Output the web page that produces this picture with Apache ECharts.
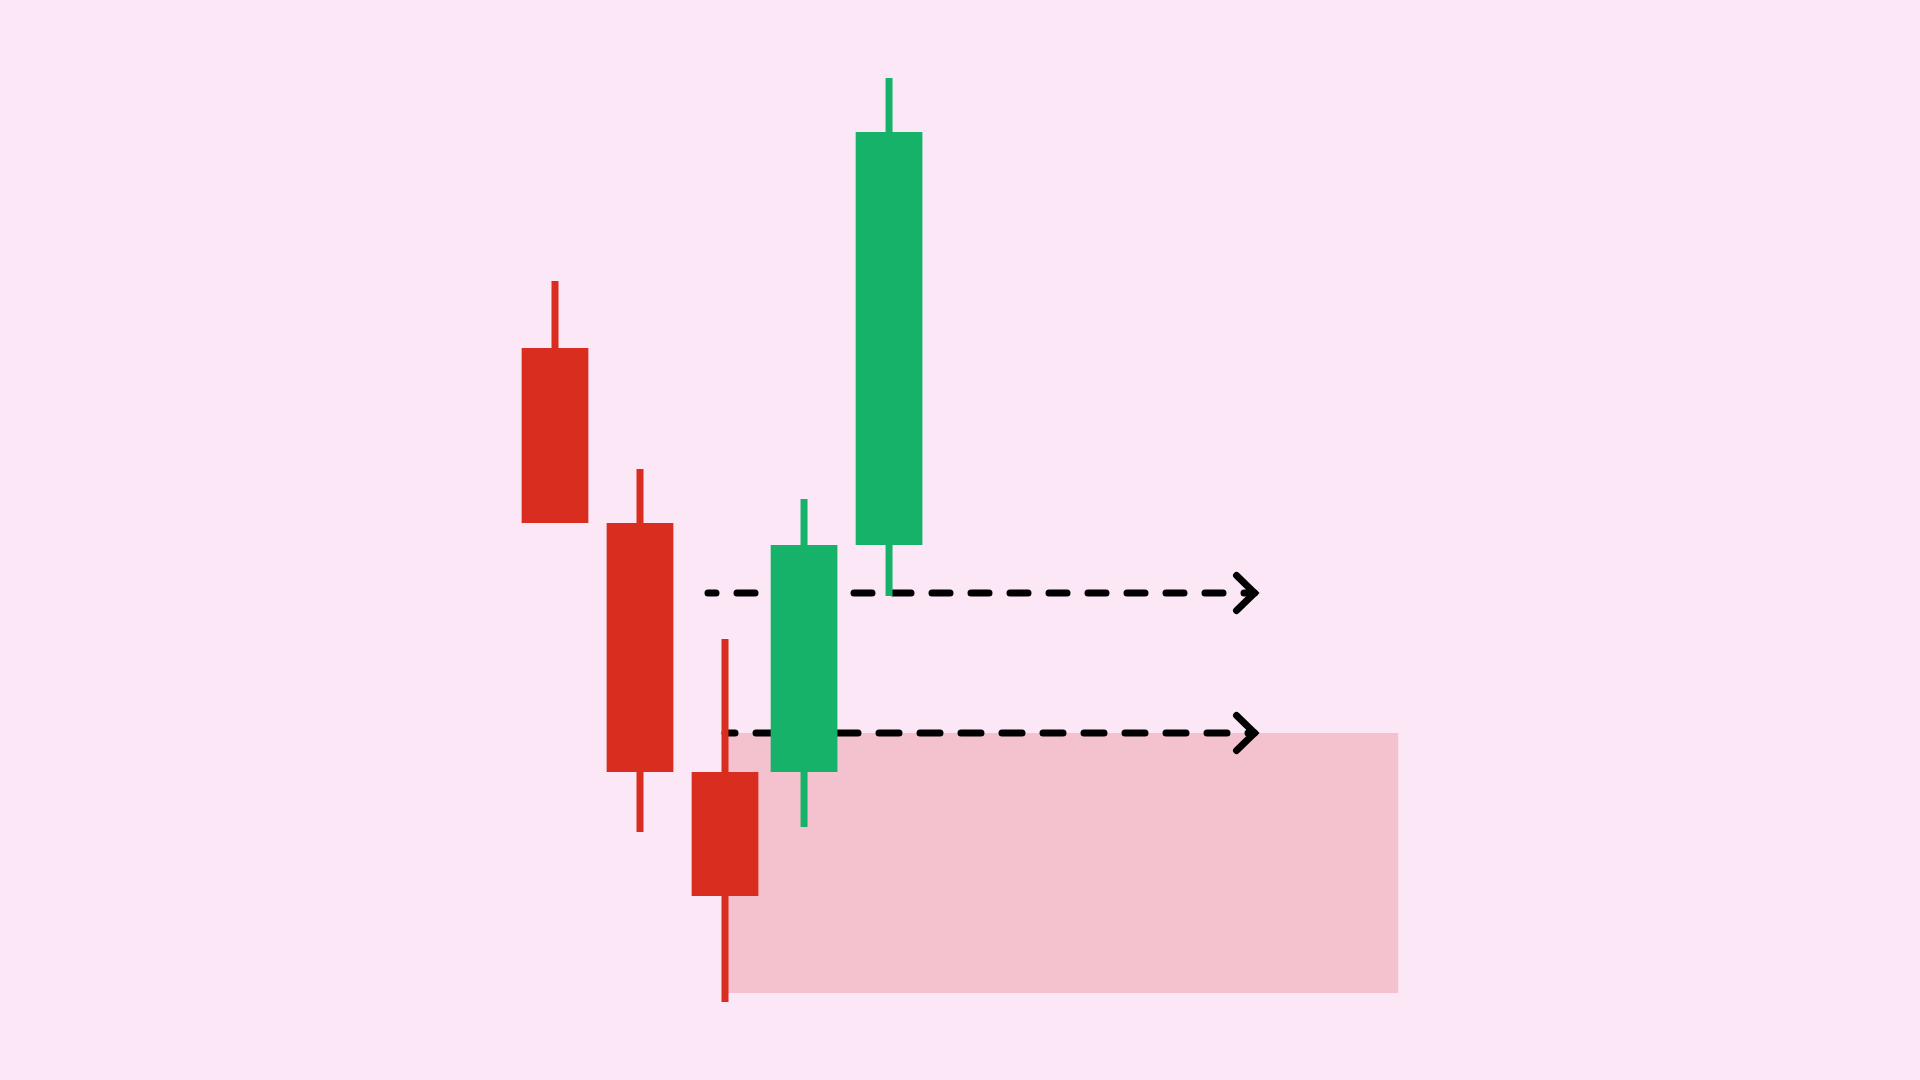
<!DOCTYPE html>
<html lang="en">
<head>
    <meta charset="UTF-8">
    <title>Candles</title>
    <script src="https://cdn.jsdelivr.net/npm/echarts@6/dist/echarts.min.js"></script>
    <style>
        html, body { margin: 0; padding: 0; background: #fce7f6; }
    </style>
</head>
<body>
    <div id="container" style="width: 1920px;height: 1080px"></div>

    <script>
        // candle data (x slot, open, close, low, high)
        var candleX = [1, 2, 3, 3.93, 4.93];
        var opens = [73.2, 55.7, 30.8, 30.8, 53.5];
        var closes = [55.7, 30.8, 18.4, 53.5, 94.8];
        var lows = [55.7, 24.8, 7.8, 25.3, 48.4];
        var highs = [79.9, 61.1, 44.1, 58.1, 100.2];

        // dashed level lines with arrow
        var levelY = [48.7, 34.7];
        var levelStartX = [2.8, 3.0];
        var levelEndX = [9.23, 9.23];

        // shaded zone
        var zoneX = [3.0, 10.92];
        var zoneY = [8.7, 34.7];

        var myChart = echarts.init(document.getElementById('container'))

        var candleData = candleX.map(function (x, i) {
            return [x, opens[i], closes[i], lows[i], highs[i]];
        });
        var levelData = levelY.map(function (y, i) {
            return [levelStartX[i], levelEndX[i], y, i];
        });

        myChart.setOption({
            backgroundColor: '#fce7f6',
            animation: false,
            grid: { left: 470, right: 5, top: 0, bottom: 0 },
            xAxis: { type: 'value', min: 0, max: 17, show: false },
            yAxis: { type: 'value', min: 0, max: 108, show: false },
            series: [
                {
                    // pink zone
                    type: 'custom',
                    z: 1,
                    data: [[zoneX[0], zoneX[1], zoneY[0], zoneY[1]]],
                    renderItem: function (params, api) {
                        var p0 = api.coord([api.value(0), api.value(3)]);
                        var p1 = api.coord([api.value(1), api.value(2)]);
                        return {
                            type: 'rect',
                            shape: { x: p0[0], y: p0[1], width: p1[0] - p0[0], height: p1[1] - p0[1] },
                            style: { fill: '#f4c1ce' }
                        };
                    }
                },
                {
                    // dashed lines + open arrow heads
                    type: 'custom',
                    z: 2,
                    data: levelData,
                    renderItem: function (params, api) {
                        var a = api.coord([api.value(0), api.value(2)]);
                        var b = api.coord([api.value(1), api.value(2)]);
                        var dash = api.value(3) === 0 ? [18, 21] : [20, 21];
                        return {
                            type: 'group',
                            children: [{
                                type: 'polyline',
                                shape: { points: [a, b] },
                                style: { stroke: '#000', lineWidth: 7, lineCap: 'round', lineDash: dash, lineDashOffset: 10, fill: null }
                            }, {
                                type: 'polyline',
                                shape: { points: [[b[0] - 18, b[1] - 17.5], b, [b[0] - 18, b[1] + 17.5]] },
                                style: { stroke: '#000', lineWidth: 7, lineCap: 'round', lineJoin: 'miter', fill: null }
                            }]
                        };
                    }
                },
                {
                    // candles
                    type: 'custom',
                    z: 3,
                    data: candleData,
                    renderItem: function (params, api) {
                        var x = api.value(0);
                        var o = api.value(1), c = api.value(2);
                        var color = c >= o ? '#17b26a' : '#d92d20';
                        var hi = api.coord([x, api.value(4)]);
                        var lo = api.coord([x, api.value(3)]);
                        var top = api.coord([x, Math.max(o, c)]);
                        var bot = api.coord([x, Math.min(o, c)]);
                        var bw = api.size([0.785, 0])[0];
                        var ww = 7;
                        return {
                            type: 'group',
                            children: [{
                                type: 'rect',
                                shape: { x: hi[0] - ww / 2, y: hi[1], width: ww, height: lo[1] - hi[1] },
                                style: { fill: color }
                            }, {
                                type: 'rect',
                                shape: { x: top[0] - bw / 2, y: top[1], width: bw, height: bot[1] - top[1] },
                                style: { fill: color }
                            }]
                        };
                    }
                }
            ]
        })
    </script>
</body>
</html>
